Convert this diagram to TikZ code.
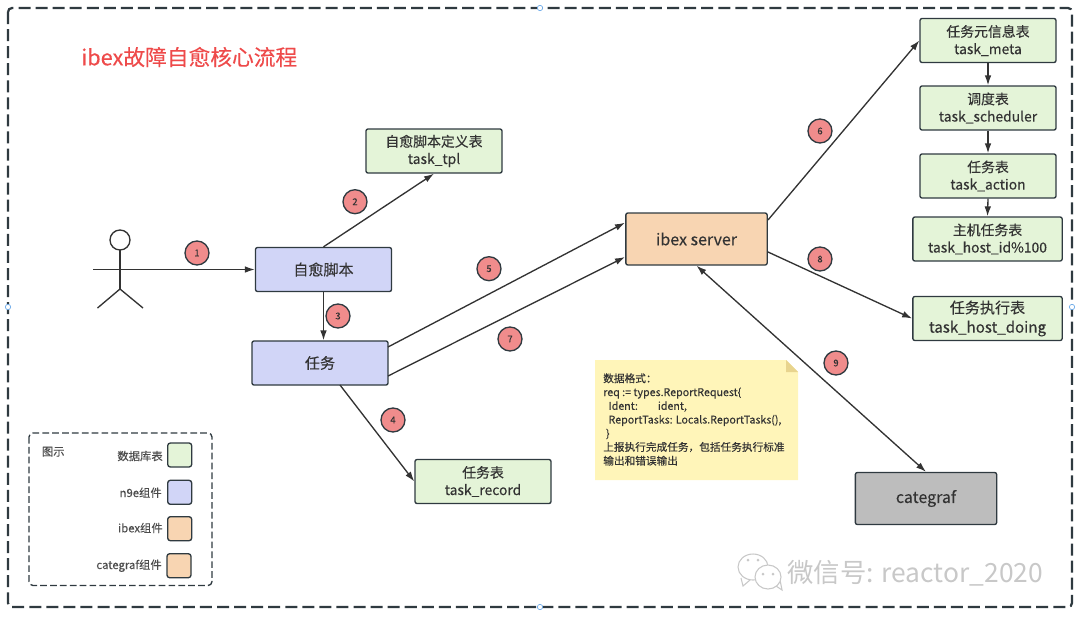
\documentclass[tikz,border=0pt]{standalone}
\usepackage{fontspec}
\setmainfont[FakeBold=0.25]{Noto Sans CJK SC}
\newfontfamily\markfont{Noto Sans CJK SC}
\usepackage{xcolor}
\usetikzlibrary{arrows.meta}
\definecolor{inkline}{HTML}{2F3A40}
\definecolor{dbgreen}{HTML}{E4F4D8}
\definecolor{n9eblue}{HTML}{D1D5F7}
\definecolor{ibexorange}{HTML}{F8D5B2}
\definecolor{agentgray}{HTML}{BDBDBD}
\definecolor{badgered}{HTML}{F08C8C}
\definecolor{titlered}{HTML}{EE4A4A}
\definecolor{notefill}{HTML}{FFF5B9}
\definecolor{notefold}{HTML}{E8D48E}
\definecolor{markgray}{HTML}{C8C8C8}
\definecolor{handleblue}{HTML}{6AA9E9}
\tikzset{>={Latex[length=7.5pt,width=5pt]}}
\tikzset{
  flowbox/.style={draw=inkline, line width=1pt, rounded corners=1.5pt, inner sep=0pt, align=center, text=black!80},
  dbtable/.style={flowbox, fill=dbgreen, minimum width=102pt, minimum height=33pt, font=\fontsize{10.4}{13}\selectfont},
  widetable/.style={dbtable, minimum width=112pt},
  compbox/.style={flowbox, minimum width=102pt, minimum height=33pt, font=\fontsize{11.3}{13}\selectfont},
  badge/.style={circle, draw=inkline, line width=1pt, fill=badgered, minimum size=18pt, inner sep=0pt, font=\fontsize{7}{8}\selectfont, text=black!80},
  swatch/.style={flowbox, minimum size=18pt, rounded corners=2pt},
  legendtext/.style={anchor=east, inner sep=0pt, font=\fontsize{8.5}{10}\selectfont, text=black!70},
  flow/.style={->, draw=black!80, line width=1pt},
  handle/.style={circle, draw=handleblue, fill=white, line width=0.5pt, minimum size=4pt, inner sep=0pt}
}
\begin{document}
\begin{tikzpicture}[x=0.75pt, y=-0.75pt]
      \useasboundingbox (0,0) rectangle (1080,622);
      \draw[draw=inkline, line width=1.7pt, dash pattern=on 9pt off 3.8pt, rounded corners=3pt] (8,8) rectangle (1072,607);
      \node[handle] (handletop) at (540,8) {};
      \node[handle] (handleleft) at (8,307) {};
      \node[handle] (handleright) at (1072,307) {};
      \node[handle] (handlebottom) at (540,607) {};
      \node[anchor=west, inner sep=0pt, text=titlered, font=\fontsize{16.3}{20}\selectfont] (title) at (81,57) {ibex故障自愈核心流程};

      \coordinate (armleft) at (93,269.5);
      \coordinate (armright) at (148,269.5);
      \coordinate (neck) at (120,250);
      \coordinate (hip) at (120,289);
      \draw[line width=1pt, draw=black!80] (120,240) circle (10);
      \draw[line width=1pt, draw=black!80] (neck) -- (hip);
      \draw[line width=1pt, draw=black!80] (armleft) -- (armright);
      \draw[line width=1pt, draw=black!80] (97.5,308) -- (hip) -- (143,308);

      \node[compbox, fill=n9eblue] (script) at (323.5,269.5) {自愈脚本};
      \node[compbox, fill=n9eblue] (task) at (320,363) {任务};
      \node[dbtable] (tpl) at (434,151) {自愈脚本定义表\\task\_tpl};
      \node[dbtable] (record) at (483,481.5) {任务表\\task\_record};
      \node[compbox, fill=ibexorange, minimum width=106pt, minimum height=39pt, font=\fontsize{12}{14}\selectfont] (server) at (696.5,239) {ibex server};
      \node[compbox, fill=agentgray, minimum width=106pt, minimum height=39pt, font=\fontsize{12}{14}\selectfont] (categraf) at (926,498.5) {categraf};
      \node[dbtable] (meta) at (988,40.5) {任务元信息表\\task\_meta};
      \node[dbtable] (scheduler) at (988,108) {调度表\\task\_scheduler};
      \node[dbtable] (action) at (988,176) {任务表\\task\_action};
      \node[widetable] (hostid) at (987.5,239) {主机任务表\\task\_host\_id\%100};
      \node[widetable, font=\fontsize{11.3}{14.5}\selectfont] (doing) at (987.5,318.5) {任务执行表\\task\_host\_doing};

      \coordinate (taskup) at (388,347);
      \coordinate (taskdown) at (388,376);
      \coordinate (taskout) at (340,385);
      \coordinate (serverinup) at (625,222.7);
      \coordinate (serverindown) at (625,257);
      \coordinate (serverup) at (768,220);
      \coordinate (serverdown) at (768,252);
      \draw[flow] (armright) -- (script.west);
      \draw[flow] (script.north) -- (tpl.south);
      \draw[flow] (script.south) -- (script.south |- task.north);
      \draw[flow] (taskout) -- (record.west);
      \draw[flow] (taskup) -- (serverinup);
      \draw[flow] (taskdown) -- (serverindown);
      \draw[flow] (serverup) -- (meta.west);
      \draw[flow] (serverdown) -- (doing.west);
      \draw[flow] (meta.south) -- (scheduler.north);
      \draw[flow] (scheduler.south) -- (action.north);
      \draw[flow] (action.south) -- (hostid.north);
      \draw[flow, <->] (server.south) -- (categraf.north);

      \node[badge] (one) at (197,253) {1};
      \node[badge] (two) at (355,201.7) {2};
      \node[badge] (three) at (338,316) {3};
      \node[badge] (four) at (393,420) {4};
      \node[badge] (five) at (489,268.7) {5};
      \node[badge] (six) at (820,131) {6};
      \node[badge] (seven) at (510,339) {7};
      \node[badge] (eight) at (820,259) {8};
      \node[badge] (nine) at (836,363) {9};

      \fill[notefill] (595,360) -- (786,360) -- (798,372) -- (798,480) -- (595,480) -- cycle;
      \fill[notefold] (786,360) -- (798,372) -- (786,372) -- cycle;
      \node[anchor=west, inner sep=0pt, align=left, text=black!80, font=\fontsize{8}{10.3}\selectfont] (notetext) at (603,419.5) {数据格式：\\req := types.ReportRequest\{\\\hspace*{4pt}Ident:\hspace{15pt}ident,\\\hspace*{4pt}ReportTasks: Locals.ReportTasks(),\\\hspace*{2pt}\}\\上报执行完成任务，包括任务执行标准\\输出和错误输出};

      \draw[draw=inkline, line width=1pt, dash pattern=on 5pt off 2.4pt, rounded corners=3pt] (29,433) rectangle (212,585.5);
      \node[anchor=west, inner sep=0pt, font=\fontsize{8.5}{10}\selectfont, text=black!70] (legendtitle) at (41.7,451.7) {图示};
      \node[swatch, fill=dbgreen] (swatchdb) at (179.7,455) {};
      \node[swatch, fill=n9eblue] (swatchn) at (179.7,492.3) {};
      \node[swatch, fill=ibexorange] (swatchibex) at (179.7,528.7) {};
      \node[swatch, fill=ibexorange] (swatchcat) at (179,565.7) {};
      \node[legendtext] (labeldb) at (163,456) {数据库表};
      \node[legendtext] (labeln) at (162,492.7) {n9e组件};
      \node[legendtext] (labelibex) at (163,528) {ibex组件};
      \node[legendtext] (labelcat) at (162,565.7) {categraf组件};

      \draw[draw=markgray, fill=white, line width=0.8pt] (741,578) -- (743,586) -- (750,580);
      \draw[draw=markgray, fill=white, line width=0.8pt] (753,567) ellipse (15 and 13);
      \draw[draw=markgray, fill=white, line width=0.8pt] (776,586) -- (782,590) -- (780,580);
      \draw[draw=markgray, fill=white, line width=0.8pt] (768,577) ellipse (13 and 12);
      \fill[markgray] (748,560) circle (1.5);
      \fill[markgray] (758,560) circle (1.5);
      \fill[markgray] (763,574) circle (1.5);
      \fill[markgray] (773,574) circle (1.5);
      \node[anchor=west, inner sep=0pt, text=markgray, font=\markfont\fontsize{19.8}{22}\selectfont] (watermark) at (787,573) {微信号: reactor\_2020};
    \end{tikzpicture}
\end{document}
